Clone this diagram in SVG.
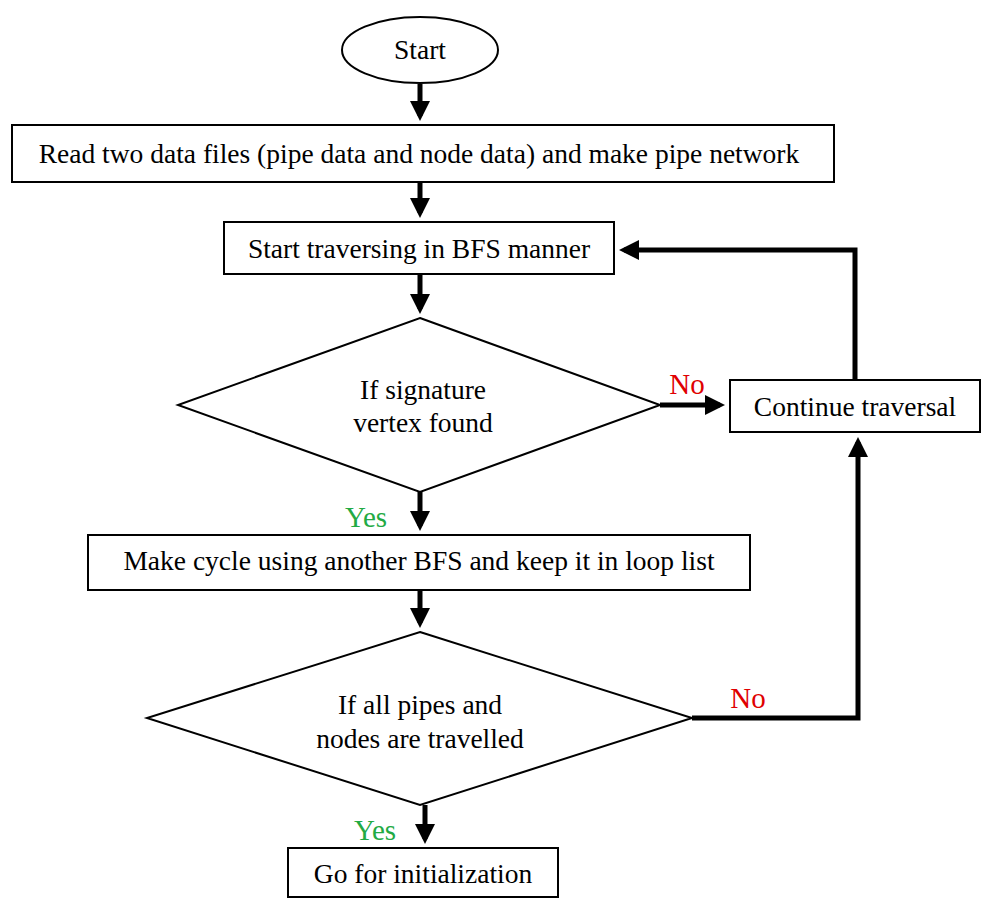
<svg xmlns="http://www.w3.org/2000/svg" width="1005" height="918" viewBox="0 0 1005 918">
<style>
.s{fill:#fff;stroke:#000;stroke-width:2}
text{font-family:"Liberation Serif",serif;font-size:27.5px;text-anchor:middle}
.c{fill:none;stroke:#000;stroke-width:5}
.no{fill:#e00000;font-size:29px}
.yes{fill:#22aa44;font-size:29px}
</style>
<defs><marker id="a" markerWidth="4" markerHeight="4" refX="3" refY="2" orient="auto"><path d="M0,0L4,2L0,4z" fill="#000"/></marker></defs>
<rect width="1005" height="918" fill="#fff"/>
<g id="connectors">
<path class="c" d="M420,84V116" marker-end="url(#a)"/>
<path class="c" d="M420,183V213" marker-end="url(#a)"/>
<path class="c" d="M420,275V309" marker-end="url(#a)"/>
<path class="c" d="M660,405H720" marker-end="url(#a)"/>
<path class="c" d="M855,380V250H624" marker-end="url(#a)"/>
<path class="c" d="M420,492V526" marker-end="url(#a)"/>
<path class="c" d="M420,591V623" marker-end="url(#a)"/>
<path class="c" d="M692,718H858V442" marker-end="url(#a)"/>
<path class="c" d="M425,805V839" marker-end="url(#a)"/>
<text class="no" x="687" y="394">No</text>
<text class="no" x="748" y="708">No</text>
<text class="yes" x="366" y="527">Yes</text>
<text class="yes" x="375" y="840">Yes</text>
</g>
<g id="start"><ellipse class="s" cx="420" cy="50" rx="78" ry="33"/><text x="420" y="59">Start</text></g>
<g id="read"><rect class="s" x="12" y="125" width="822" height="57"/><text x="419" y="163">Read two data files (pipe data and node data) and make pipe network</text></g>
<g id="bfs"><rect class="s" x="224" y="222" width="390" height="52"/><text x="419" y="258">Start traversing in BFS manner</text></g>
<g id="d1"><polygon class="s" points="420,318 660,405 420,492 178,405"/><text x="423" y="399">If signature</text><text x="423" y="432">vertex found</text></g>
<g id="cont"><rect class="s" x="730" y="380" width="250" height="52"/><text x="855" y="416">Continue traversal</text></g>
<g id="cycle"><rect class="s" x="88" y="535" width="662" height="55"/><text x="419" y="570">Make cycle using another BFS and keep it in loop list</text></g>
<g id="d2"><polygon class="s" points="420,632 692,718 420,805 147,718"/><text x="420" y="714">If all pipes and</text><text x="420" y="748">nodes are travelled</text></g>
<g id="init"><rect class="s" x="288" y="848" width="270" height="49"/><text x="423" y="883">Go for initialization</text></g>
</svg>
